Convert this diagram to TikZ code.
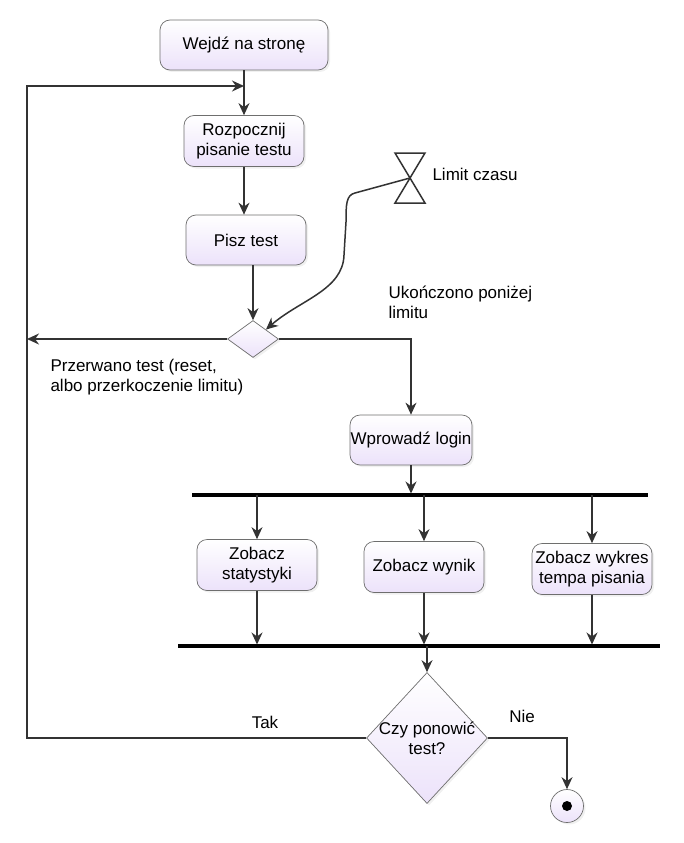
\documentclass[tikz,border=0pt]{standalone}
\usepackage{fontspec}
\setmainfont{Liberation Sans}
\usetikzlibrary{shapes.geometric, arrows.meta, shadows}
\definecolor{lila}{RGB}{236,226,250}
\definecolor{linia}{RGB}{51,51,51}
\definecolor{ramka}{RGB}{110,110,110}
\begin{document}
\begin{tikzpicture}[x = 1pt, y = -1pt,
  font = \fontsize{17}{20}\selectfont,
  akcja/.style = {draw = ramka, line width = 0.7pt, rounded corners = 10pt,
    top color = white, bottom color = lila, minimum width = 120pt,
    minimum height = 51pt, align = center, inner xsep = 0.5pt,
    drop shadow = {opacity = 0.12, shadow xshift = 2pt, shadow yshift = -2pt}},
  decyzja/.style = {diamond, draw = ramka, line width = 0.7pt, inner sep = 0pt,
    top color = white, bottom color = lila,
    drop shadow = {opacity = 0.12, shadow xshift = 2pt, shadow yshift = -2pt}},
  strz/.style = {draw = linia, line width = 1.5pt, -{Stealth[length = 12pt, width = 11pt]}},
  belka/.style = {line width = 3.5pt, black}]
\useasboundingbox (0,0) rectangle (684,843);

% akcje
\node[akcja, minimum width = 168pt, minimum height = 50pt] (wejdz) at (244,45) {Wejdź na stronę};
\node[akcja] (rozp) at (244,141) {Rozpocznij\\pisanie testu};
\node[akcja, minimum height = 50pt] (pisz) at (246,240) {Pisz test};
\node[decyzja, minimum width = 51pt, minimum height = 37pt] (dec1) at (253,339) {};
\node[akcja, minimum height = 50pt] (login) at (411,440) {Wprowadź login};
\node[akcja] (stat) at (257,565) {Zobacz\\statystyki};
\node[akcja] (wynik) at (424,567) {Zobacz wynik};
\node[akcja] (wykres) at (592,569) {Zobacz wykres\\tempa pisania};
\node[decyzja, minimum width = 121pt, minimum height = 131pt,
  label = {[align = center]center:Czy ponowić\\test?}] (dec2) at (427,738) {};
\node[circle, draw = ramka, line width = 0.7pt, top color = white, bottom color = lila,
  minimum size = 33pt, inner sep = 0pt,
  drop shadow = {opacity = 0.12, shadow xshift = 2pt, shadow yshift = -2pt}] (koniec) at (567,806) {};
\fill (koniec) circle (5pt);

% limit czasu
\coordinate (limit) at (410,178);
\draw[linia, line width = 1.5pt, fill = white] (395,153) -- (425,153) -- (395,203) -- (425,203) -- cycle;
\node[anchor = west] (limtxt) at (429,174) {Limit czasu};

% belki
\coordinate (f1l) at (192,495);
\coordinate (f1r) at (648,495);
\coordinate (f2l) at (178,646);
\coordinate (f2r) at (660,646);
\draw[belka] (f1l) -- (f1r);
\draw[belka] (f2l) -- (f2r);

% petla
\coordinate (lewo) at (27,400);
\coordinate (wejscie) at (244,86);

% polaczenia
\draw[strz] (wejdz) -- (rozp);
\draw[strz] (rozp.south) -- (rozp.south |- pisz.north);
\draw[strz] (dec1.north |- pisz.south) -- (dec1.north);
\draw[strz] (limit) -- (355,193) .. controls (346,195) and (346,205) .. (346,222)
  -- (344,255) .. controls (343,290) and (300,300) .. (dec1.north east);
\draw[strz] (dec1.west) -- (dec1.west -| lewo);
\draw[strz] (dec1.east) -| (login.north);
\draw[strz, shorten > = 1.5pt] (login.south) -- (login.south |- f1l);
\foreach \akt in {stat, wynik, wykres}
{
  \draw[strz] (\akt.north |- f1l) -- (\akt.north);
  \draw[strz, shorten > = 1.5pt] (\akt.south) -- (\akt.south |- f2l);
}
\draw[strz] (f2l -| dec2.north) -- (dec2.north);
\draw[strz] (dec2.east) -| (koniec.north);
\draw[strz] (dec2.west) -| (lewo) |- (wejscie);

% etykiety
\node[anchor = west, align = left] (ukon) at (385,302) {Ukończono poniżej\\limitu};
\node[anchor = west, align = left] (przerw) at (47,377) {Przerwano test (reset,\\albo przerkoczenie limitu)};
\node (tak) at (265,722) {Tak};
\node (nie) at (522,716) {Nie};
\end{tikzpicture}
\end{document}
